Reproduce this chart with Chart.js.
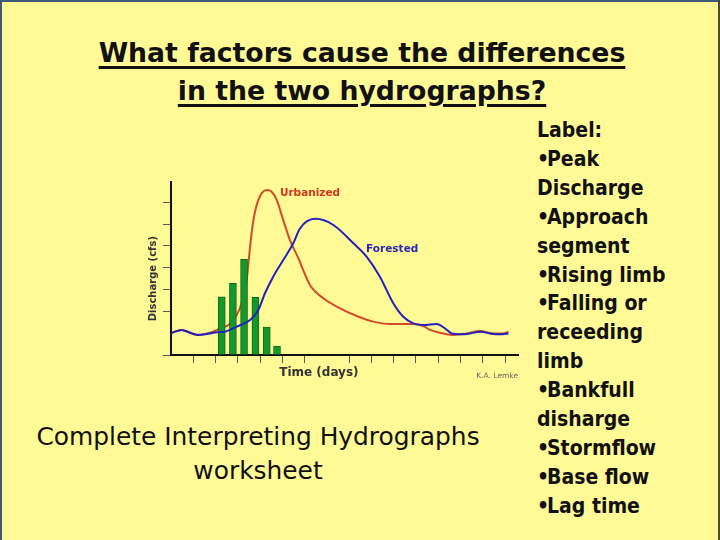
<!DOCTYPE html>
<html>
<head>
<meta charset="utf-8">
<script src="https://cdn.jsdelivr.net/npm/chart.js@4.4.1/dist/chart.umd.min.js"></script>
<style>
    html, body { margin: 0; padding: 0; }
    body {
        width: 720px; height: 540px; overflow: hidden; position: relative;
        background: #fffa96;
        font-family: "DejaVu Sans Condensed", "DejaVu Sans", sans-serif;
    }
    .borde-top { position: absolute; left: 0; top: 0; width: 720px; height: 2px; background: #3f5a74; }
    .borde-esq { position: absolute; left: 0; top: 0; width: 2px; height: 540px; background: #3f5a74; }
    .borde-dir { position: absolute; right: 0; top: 0; width: 2px; height: 540px; background: #4d4a2d; }
    #titulo {
        position: absolute; left: 0; top: 34px; width: 724px; text-align: center;
        font-family: "DejaVu Sans", sans-serif;
        font-weight: bold; font-size: 26.7px; line-height: 38px; color: #111;
        text-decoration: underline; text-decoration-thickness: 3px; text-underline-offset: 4px;
    }
    #legenda {
        position: absolute; left: 8px; top: 420px; width: 500px; text-align: center;
        font-family: "DejaVu Sans", sans-serif;
        font-size: 24.9px; line-height: 34px; color: #111;
    }
    #lista {
        position: absolute; left: 537px; top: 116px; width: 180px;
        font-weight: bold; font-size: 21px; line-height: 28.9px; color: #111;
        white-space: nowrap;
    }
    #lista .b { display: inline-block; width: 10px; }
    #grafico { position: absolute; left: 130px; top: 170px; }
</style>
</head>
<body>
<div class="borde-top"></div>
<div class="borde-esq"></div>
<div class="borde-dir"></div>

<div id="titulo">What factors cause the differences<br>in the two hydrographs?</div>

<canvas id="grafico" width="400" height="220"></canvas>

<div id="legenda">Complete Interpreting Hydrographs<br>worksheet</div>

<div id="lista">
    Label:<br>
    <span class="b">•</span>Peak<br>
    Discharge<br>
    <span class="b">•</span>Approach<br>
    segment<br>
    <span class="b">•</span>Rising limb<br>
    <span class="b">•</span>Falling or<br>
    receeding<br>
    limb<br>
    <span class="b">•</span>Bankfull<br>
    disharge<br>
    <span class="b">•</span>Stormflow<br>
    <span class="b">•</span>Base flow<br>
    <span class="b">•</span>Lag time
</div>

<script>
// Dados (tempo em divisões do eixo, vazão em divisões do eixo)
const urbanizadoX = [0.03, 0.48, 0.76, 1.15, 1.53, 1.90, 2.20, 2.57, 2.95, 3.17, 3.40, 3.55, 3.70, 3.92, 4.30, 4.52, 4.75, 5.04, 5.34, 5.72, 6.24, 6.84, 7.59, 8.34, 9.08, 9.83, 10.88, 11.33, 11.63, 12.08, 12.68, 13.28, 13.88, 14.47, 14.92, 15.15];
const urbanizadoY = [1.02, 1.15, 1.07, 0.92, 0.96, 1.07, 1.22, 1.37, 1.83, 2.37, 3.44, 4.96, 6.18, 7.10, 7.56, 7.48, 7.10, 6.18, 5.27, 4.43, 3.21, 2.60, 2.14, 1.79, 1.53, 1.42, 1.42, 1.33, 1.15, 1.02, 0.92, 0.99, 1.10, 0.99, 0.99, 1.07];

const florestadoX = [0.03, 0.48, 0.85, 1.23, 1.60, 2.05, 2.42, 2.95, 3.55, 3.92, 4.22, 4.59, 5.04, 5.49, 5.79, 6.47, 7.29, 8.19, 8.79, 9.38, 9.98, 10.43, 10.88, 11.33, 11.93, 12.30, 12.60, 12.98, 13.43, 13.88, 14.32, 14.77, 15.15];
const florestadoY = [1.02, 1.15, 1.02, 0.92, 0.96, 1.04, 1.07, 1.30, 1.60, 2.06, 2.83, 3.59, 4.35, 5.12, 5.80, 6.24, 5.96, 5.12, 4.50, 3.59, 2.37, 1.75, 1.45, 1.37, 1.42, 1.22, 0.99, 0.95, 0.99, 1.07, 0.99, 0.95, 0.99];

const chuvaX = [2.28, 2.78, 3.28, 3.79, 4.30, 4.76];
const chuvaY = [2.67, 3.28, 4.38, 2.64, 1.28, 0.41];

const ticksEscondidosX = [0, 7];
const ticksEscondidosY = [1];

function juntar(xs, ys) {
    return xs.map((x, i) => ({ x: x, y: ys[i] }));
}

// textos dentro da imagem do gráfico
const textosGrafico = {
    id: 'textosGrafico',
    afterDraw(chart) {
        const ctx = chart.ctx;
        const area = chart.chartArea;
        const sx = chart.scales.x;
        const sy = chart.scales.y;
        ctx.save();
        ctx.textBaseline = 'middle';

        ctx.font = 'bold 10.5px "DejaVu Sans", sans-serif';
        ctx.fillStyle = '#d3351f';
        ctx.textAlign = 'left';
        ctx.fillText('Urbanized', sx.getPixelForValue(4.89), sy.getPixelForValue(7.42));
        ctx.fillStyle = '#2727b8';
        ctx.fillText('Forested', sx.getPixelForValue(8.76), sy.getPixelForValue(4.86));

        ctx.fillStyle = '#333';
        ctx.textAlign = 'center';
        ctx.font = 'bold 12px "DejaVu Sans", sans-serif';
        ctx.fillText('Time (days)', sx.getPixelForValue(6.64), area.bottom + 18);

        ctx.save();
        ctx.translate(area.left - 18, sy.getPixelForValue(3.5));
        ctx.rotate(-Math.PI / 2);
        ctx.font = 'bold 10px "DejaVu Sans", sans-serif';
        ctx.fillText('Discharge (cfs)', 0, 0);
        ctx.restore();

        ctx.fillStyle = '#666';
        ctx.textAlign = 'right';
        ctx.font = '7.5px "DejaVu Sans", sans-serif';
        ctx.fillText('K.A. Lemke', area.right, area.bottom + 21);
        ctx.restore();
    }
};

window.addEventListener("load", () => {
    gerarHidrograma();
});

function gerarHidrograma() {
    const grafico = document.getElementById('grafico');
    new Chart(grafico, {
        data: {
            datasets: [
                {
                    type: 'line',
                    label: 'Urbanized',
                    data: juntar(urbanizadoX, urbanizadoY),
                    borderColor: '#d24a2c',
                    borderWidth: 2,
                    pointRadius: 0,
                    tension: 0.4,
                    cubicInterpolationMode: 'monotone',
                    order: 3
                },
                {
                    type: 'bar',
                    label: 'Chuva',
                    data: juntar(chuvaX, chuvaY),
                    backgroundColor: '#14972c',
                    borderColor: '#0c6c1c',
                    borderWidth: 1,
                    barThickness: 7,
                    order: 2
                },
                {
                    type: 'line',
                    label: 'Forested',
                    data: juntar(florestadoX, florestadoY),
                    borderColor: '#2121c2',
                    borderWidth: 2,
                    pointRadius: 0,
                    tension: 0.4,
                    cubicInterpolationMode: 'monotone',
                    order: 1
                }
            ]
        },
        options: {
            responsive: false,
            animation: false,
            layout: {
                padding: { left: 33, top: 12, right: 12, bottom: 27 }
            },
            plugins: {
                legend: { display: false },
                tooltip: { enabled: false }
            },
            scales: {
                x: {
                    type: 'linear',
                    offset: false,
                    min: 0,
                    max: 15.58,
                    ticks: { display: false, stepSize: 1, includeBounds: false },
                    grid: {
                        offset: false,
                        drawOnChartArea: false,
                        tickLength: 8,
                        tickWidth: 1,
                        tickColor: (c) => {
                            const v = c.tick ? c.tick.value : 0;
                            return (ticksEscondidosX.includes(v) || v % 1 !== 0) ? 'rgba(0,0,0,0)' : '#555';
                        }
                    },
                    border: { display: true, color: '#111', width: 2 }
                },
                y: {
                    type: 'linear',
                    min: 0,
                    max: 7.93,
                    ticks: { display: false, stepSize: 1, includeBounds: false },
                    grid: {
                        drawOnChartArea: false,
                        tickLength: 8,
                        tickWidth: 1,
                        tickColor: (c) => {
                            const v = c.tick ? c.tick.value : 0;
                            return (ticksEscondidosY.includes(v) || v % 1 !== 0) ? 'rgba(0,0,0,0)' : '#555';
                        }
                    },
                    border: { display: true, color: '#111', width: 2 }
                }
            }
        },
        plugins: [textosGrafico]
    });
}
</script>
</body>
</html>
